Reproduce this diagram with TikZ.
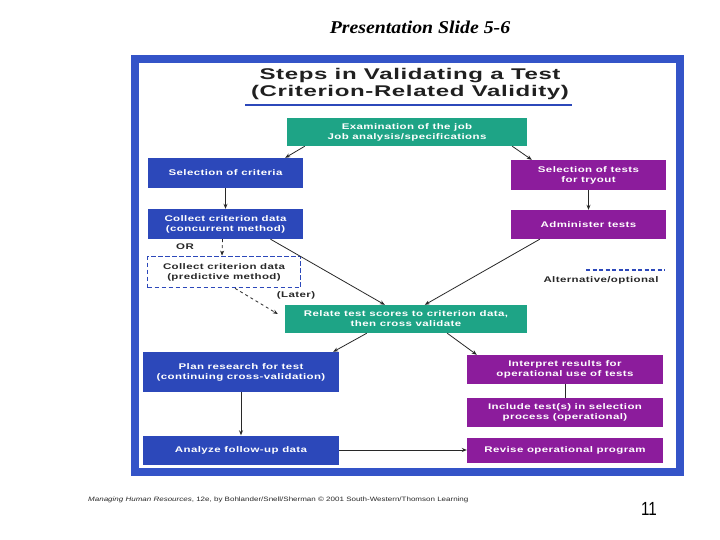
\documentclass[tikz,border=0pt]{standalone}
\usepackage{fontspec}
\usetikzlibrary{calc,arrows.meta}
\newfontfamily\boxfont[FakeStretch=1.4,LetterSpace=5]{Liberation Sans}
\newfontfamily\titlefont[FakeStretch=1.55,LetterSpace=4]{Liberation Sans}
\newfontfamily\slidefont[FakeStretch=1.1]{Liberation Serif}
\newfontfamily\footfont[FakeStretch=1.27]{Liberation Sans}
\newfontfamily\numfont[FakeStretch=0.8]{Liberation Sans}
\definecolor{frameblue}{RGB}{52,84,200}
\definecolor{boxblue}{RGB}{44,72,186}
\definecolor{boxpurple}{RGB}{140,28,156}
\definecolor{boxteal}{RGB}{30,164,134}
\definecolor{darktext}{RGB}{40,40,40}
\tikzset{
  x=1pt,y=-1pt,
  stepbox/.style={inner sep=1pt,align=center,text=white,font=\boxfont\bfseries\fontsize{8.2}{10}\selectfont},
  bluebox/.style={stepbox,fill=boxblue},
  purplebox/.style={stepbox,fill=boxpurple},
  tealbox/.style={stepbox,fill=boxteal},
  dashbox/.style={stepbox,text=darktext,draw=boxblue,line width=1.7pt,dash pattern=on 4.5pt off 2.5pt,fill=white},
  conn/.style={-{Stealth[length=5pt,width=4pt]},line width=0.8pt,draw=darktext},
  dconn/.style={conn,dash pattern=on 3pt off 3pt},
  plainlbl/.style={inner sep=0pt,text=darktext,font=\boxfont\bfseries\fontsize{8.2}{10}\selectfont}
}
\begin{document}
\begin{tikzpicture}
\useasboundingbox (0,0) rectangle (720,540);
\fill[white] (0,0) rectangle (720,540);
% frame
\draw[frameblue,line width=8pt] (135,59) rectangle (680,472);
% slide title
\node (slidetitle) at (420,27) {\slidefont\bfseries\itshape\fontsize{18}{20}\selectfont Presentation Slide 5-6};
% diagram title
\node[align=center,text=darktext!80!black,font=\titlefont\bfseries\fontsize{15.5}{17.5}\selectfont,inner sep=0pt] (title) at (410,84) {Steps in Validating a Test\\(Criterion-Related Validity)};
\coordinate (ulA) at (245,105);
\coordinate (ulB) at (572,105);
\draw[boxblue,line width=2.2pt] (ulA) -- (ulB);
% boxes
\node[tealbox,minimum width=240pt,minimum height=28pt] (exam) at (407,132) {Examination of the job\\Job analysis/specifications};
\node[bluebox,minimum width=155pt,minimum height=30pt] (selcrit) at (225.5,173) {Selection of criteria};
\node[purplebox,minimum width=155pt,minimum height=30pt] (seltest) at (588.5,175) {Selection of tests\\for tryout};
\node[bluebox,minimum width=155pt,minimum height=30pt] (collconc) at (225.5,224) {Collect criterion data\\(concurrent method)};
\node[purplebox,minimum width=155pt,minimum height=29pt] (admin) at (588.5,224.5) {Administer tests};
\node[dashbox,minimum width=153pt,minimum height=31pt] (collpred) at (224,272) {Collect criterion data\\(predictive method)};
\node[tealbox,minimum width=242pt,minimum height=28pt] (relate) at (406,319) {Relate test scores to criterion data,\\then cross validate};
\node[bluebox,minimum width=196pt,minimum height=40pt] (plan) at (241,372) {Plan research for test\\(continuing cross-validation)};
\node[bluebox,minimum width=196pt,minimum height=29pt] (analyze) at (241,450) {Analyze follow-up data};
\node[purplebox,minimum width=196pt,minimum height=29pt] (interp) at (565,369.5) {Interpret results for\\operational use of tests};
\node[purplebox,minimum width=196pt,minimum height=29pt] (include) at (565,412.5) {Include test(s) in selection\\process (operational)};
\node[purplebox,minimum width=196pt,minimum height=25pt] (revise) at (565,450.5) {Revise operational program};
% labels
\node[plainlbl] (orlbl) at (185,247) {OR};
\node[plainlbl] (later) at (296,295) {(Later)};
\node[plainlbl] (altlbl) at (601,280) {Alternative/optional};
\coordinate (legA) at (586,270);
\coordinate (legB) at (665,270);
\draw[boxblue,line width=1.2pt,dash pattern=on 4pt off 2.5pt] (legA) -- (legB);
% connectors
\draw[conn] ([xshift=18pt]exam.south west) -- ([xshift=-18pt]selcrit.north east);
\draw[conn] ([xshift=-15pt]exam.south east) -- ([xshift=21pt]seltest.north west);
\draw[conn] (selcrit.south) -- (collconc.north);
\draw[conn] (seltest.south) -- (admin.north);
\draw[dconn] ([xshift=-3pt]collconc.south) -- ([xshift=-2pt]collpred.north);
\draw[conn] ([xshift=45pt]collconc.south) -- ([xshift=100pt]relate.north west);
\draw[conn] ([xshift=29pt]admin.south west) -- ([xshift=140pt]relate.north west);
\draw[dconn] ([xshift=11pt]collpred.south) -- ($(relate.west)+(-7,-5)$);
\draw[conn] ([xshift=82pt]relate.south west) -- ([xshift=-6pt]plan.north east);
\draw[conn] ([xshift=-80pt]relate.south east) -- ([xshift=10pt]interp.north west);
\draw[conn] (plan.south) -- (analyze.north);
\draw[line width=0.8pt,darktext] (interp.south) -- (include.north);
\draw[conn] (analyze.east) -- (analyze.east -| revise.west);
% footer
\node[anchor=west,inner sep=0pt,text=darktext] (footer) at (88,500) {\footfont\fontsize{6.3}{7}\selectfont\textit{Managing Human Resources}, 12e, by Bohlander/Snell/Sherman © 2001 South-Western/Thomson Learning};
\node[inner sep=0pt] (pagenum) at (649,509) {\numfont\fontsize{19}{20}\selectfont 11};
\end{tikzpicture}
\end{document}
